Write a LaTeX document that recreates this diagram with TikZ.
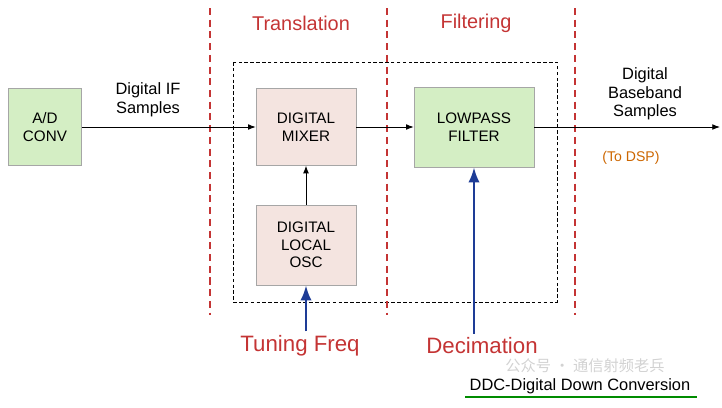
\documentclass[tikz,border=0pt]{standalone}
\usepackage{fontspec}
\setmainfont{Liberation Sans}
\newfontfamily\cjk{Noto Sans CJK SC}
\usetikzlibrary{arrows.meta}
\definecolor{boxgreen}{RGB}{212,238,196}
\definecolor{boxpink}{RGB}{244,228,224}
\definecolor{darkred}{RGB}{196,52,52}
\definecolor{arrowblue}{RGB}{30,60,150}
\tikzset{
    blk/.style={draw=gray!70, thin, minimum width=2.7cm, minimum height=2.3cm, align=center, font=\fontsize{13}{15}\selectfont},
    sep/.style={darkred, very thick, dash pattern=on 6pt off 4pt},
    lbl/.style={darkred, font=\fontsize{17}{20}\selectfont}
}
\begin{document}
\begin{tikzpicture}[x=0.03cm, y=-0.03cm, >=Latex]
        \useasboundingbox (0, 0) rectangle (722, 407);

        \node[blk, fill=boxgreen, minimum width=2.2cm] (adc) at (45, 127) {A/D\\CONV};
        \node[blk, fill=boxpink, minimum width=3.0cm] (mixer) at (306, 127) {DIGITAL\\MIXER};
        \node[blk, fill=boxpink, minimum width=3.0cm, minimum height=2.4cm] (osc) at (306, 245) {DIGITAL\\LOCAL\\OSC};
        \node[blk, fill=boxgreen, minimum width=3.6cm, minimum height=2.4cm] (lpf) at (474, 127) {LOWPASS\\FILTER};

        \draw[black, densely dashed, thick] (233, 62) rectangle (557, 302);
        \foreach \x in {210, 387, 575}
            \draw[sep] (\x, 8) -- (\x, 315);

        \node[lbl] (trans) at (301, 23) {Translation};
        \node[lbl] (filt) at (476, 23) {Filtering};
        \node[lbl, font=\fontsize{19}{22}\selectfont] (tune) at (300, 346) {Tuning Freq};
        \node[lbl, font=\fontsize{19}{22}\selectfont] (dec) at (482, 346) {Decimation};

        \node[align=center, font=\fontsize{14}{16}\selectfont] (ifs) at (148, 100) {Digital IF\\Samples};
        \node[align=center, font=\fontsize{14}{16}\selectfont] (bbs) at (645, 94) {Digital\\Baseband\\Samples};
        \node[text=orange!80!black, font=\fontsize{12}{14}\selectfont] (dsp) at (631, 158) {(To DSP)};
        \coordinate (out) at (720, 127);

        \draw[->, thick] (adc) -- (mixer);
        \draw[->, thick] (osc) -- (mixer);
        \draw[->, thick] (mixer) -- (lpf);
        \draw[->, thick] (lpf) -- (out);
        \draw[->, arrowblue, line width=2.2pt] (tune.north -| osc) -- (osc);
        \draw[->, arrowblue, line width=2.2pt] (dec.north -| lpf) -- (lpf);

        \node[gray!35, font=\cjk\fontsize{13}{15}\selectfont] (wm) at (585, 366) {公众号 · 通信射频老兵};
        \node[font=\fontsize{14}{16}\selectfont] (cap) at (580, 386) {DDC-Digital Down Conversion};
        \draw[green!55!black, line width=1.5pt] (465, 397) -- (697, 397);
    \end{tikzpicture}
\end{document}
